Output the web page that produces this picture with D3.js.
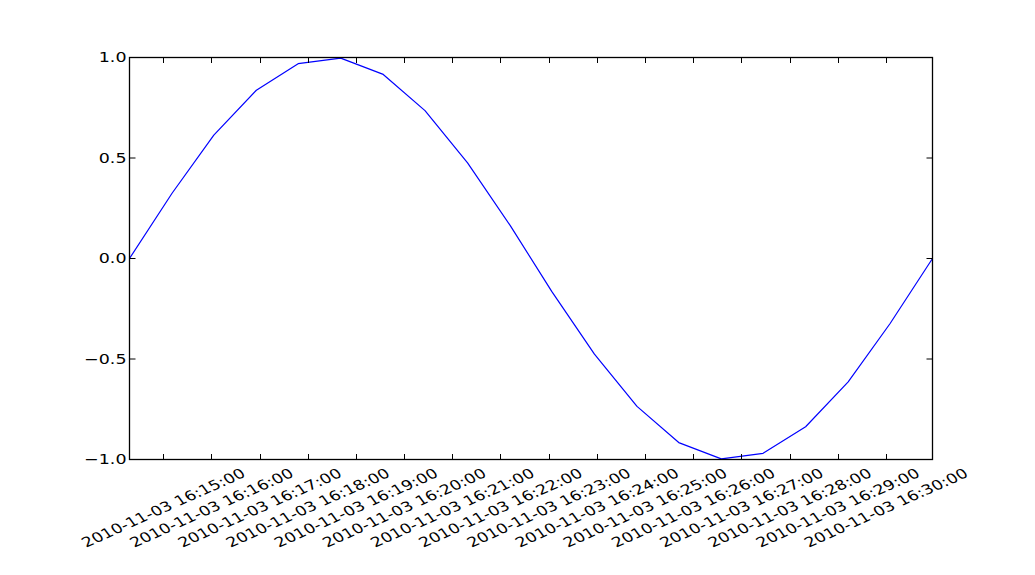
<!DOCTYPE html>
<html>
<head>
<meta charset="utf-8">
<script src="https://cdn.jsdelivr.net/npm/d3@7"></script>
<style>
  html, body { margin: 0; padding: 0; background: #fff; }
  text { font-family: "DejaVu Sans", sans-serif; fill: #000; }
</style>
</head>
<body>
<svg id="chart" width="1035" height="575"></svg>
<script>
// ---- data ----
const times = [
  "2010-11-03 16:14:18", "2010-11-03 16:15:11", "2010-11-03 16:16:03", "2010-11-03 16:16:56",
  "2010-11-03 16:17:48", "2010-11-03 16:18:41", "2010-11-03 16:19:34", "2010-11-03 16:20:26",
  "2010-11-03 16:21:19", "2010-11-03 16:22:12", "2010-11-03 16:23:04", "2010-11-03 16:23:57",
  "2010-11-03 16:24:50", "2010-11-03 16:25:42", "2010-11-03 16:26:35", "2010-11-03 16:27:27",
  "2010-11-03 16:28:20", "2010-11-03 16:29:13", "2010-11-03 16:30:05", "2010-11-03 16:30:58"
];
const values = [
  0.0, 0.3247, 0.6142, 0.8372, 0.9694, 0.9966, 0.9158, 0.7357, 0.4759, 0.1646,
  -0.1646, -0.4759, -0.7357, -0.9158, -0.9966, -0.9694, -0.8372, -0.6142, -0.3247, 0.0
];
const yTickValues = [-1.0, -0.5, 0.0, 0.5, 1.0];
const xTickStart = "2010-11-03 16:15:00";
const xTickEnd = "2010-11-03 16:30:00";

(function () {
// ---- layout ----
const svg = d3.select("#chart");
const mLeft = 129.5, mRight = 932.5, mTop = 57.5, mBottom = 459.5;
const SX = 1.294, SY = 1.0;   // horizontal stretch of the reference text
const fontSize = 13.5;

const parse = d3.timeParse("%Y-%m-%d %H:%M:%S");
const fmt = d3.timeFormat("%Y-%m-%d %H:%M:%S");
const data = times.map((t, i) => ({ t: parse(t), v: values[i] }));

const x = d3.scaleTime().domain(d3.extent(data, d => d.t)).range([mLeft, mRight]);
const y = d3.scaleLinear().domain([-1, 1]).range([mBottom, mTop]);

const xTicks = d3.timeMinute.range(parse(xTickStart), d3.timeSecond.offset(parse(xTickEnd), 1));

// line
const line = d3.line().x(d => x(d.t)).y(d => y(d.v));
svg.append("path")
  .datum(data)
  .attr("d", line)
  .attr("fill", "none")
  .attr("stroke", "#0000ff")
  .attr("stroke-width", 1.2)
  .attr("stroke-linejoin", "round");

// ticks (inside, on all four sides)
const tickG = svg.append("g").attr("stroke", "#000").attr("stroke-width", 1);
const xt = 5.5, yt = 6;
xTicks.forEach(t => {
  const px = Math.round(x(t)) + 0.5;
  tickG.append("line").attr("x1", px).attr("x2", px).attr("y1", mBottom).attr("y2", mBottom - xt);
  tickG.append("line").attr("x1", px).attr("x2", px).attr("y1", mTop).attr("y2", mTop + xt);
});
yTickValues.forEach(v => {
  const py = y(v);
  tickG.append("line").attr("x1", mLeft).attr("x2", mLeft + yt).attr("y1", py).attr("y2", py);
  tickG.append("line").attr("x1", mRight).attr("x2", mRight - yt).attr("y1", py).attr("y2", py);
});

// frame
svg.append("rect")
  .attr("x", mLeft).attr("y", mTop)
  .attr("width", mRight - mLeft).attr("height", mBottom - mTop)
  .attr("fill", "none").attr("stroke", "#000").attr("stroke-width", 1.3);

// y tick labels
const yFmt = v => d3.format(".1f")(v).replace("-", "\u2212");
yTickValues.forEach(v => {
  svg.append("g")
    .attr("transform", `translate(${mLeft - 3},${y(v)}) scale(${SX},${SY})`)
    .append("text")
    .attr("text-anchor", "end")
    .attr("dy", "0.36em")
    .style("font-size", fontSize + "px")
    .text(yFmt(v));
});

// x tick labels, rotated 30deg then stretched like the reference
const ang = 30 * Math.PI / 180;
xTicks.forEach(t => {
  const g = svg.append("g");
  const txt = g.append("text")
    .attr("text-anchor", "middle")
    .attr("dy", "0.36em")
    .style("font-size", fontSize + "px")
    .text(fmt(t));
  const w = txt.node().getComputedTextLength();
  const h = fontSize * 0.74;
  const H = SY * (w * Math.sin(ang) + h * Math.cos(ang));
  const cy = mBottom + 8 + H / 2;
  g.attr("transform", `translate(${x(t)},${cy}) scale(${SX},${SY}) rotate(-30)`);
});
})();
</script>
</body>
</html>
